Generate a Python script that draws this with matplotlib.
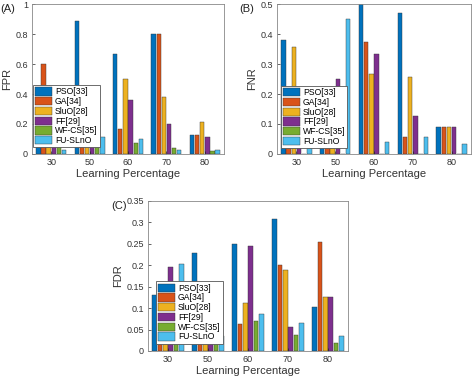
import matplotlib
matplotlib.use("Agg")
import matplotlib.pyplot as plt
import numpy as np
from matplotlib.ticker import FuncFormatter

groups = ["30", "50", "60", "70", "80"]
methods = ["PSO[33]", "GA[34]", "SluO[28]", "FF[29]", "WF-CS[35]", "FU-SLnO"]
colors = ["#0072BD", "#D95319", "#EDB120", "#7E2F8E", "#77AC30", "#4DBEEE"]

# rows = methods, columns = learning percentage
fpr = [
    [0.30, 0.89, 0.667, 0.80, 0.125],
    [0.60, 0.25, 0.167, 0.80, 0.125],
    [0.20, 0.20, 0.50, 0.38, 0.21],
    [0.10, 0.15, 0.36, 0.20, 0.115],
    [0.05, 0.075, 0.075, 0.04, 0.02],
    [0.025, 0.11, 0.10, 0.025, 0.025],
]
fnr = [
    [0.38, 0.20, 0.50, 0.47, 0.09],
    [0.15, 0.15, 0.375, 0.057, 0.09],
    [0.357, 0.10, 0.267, 0.255, 0.09],
    [0.20, 0.25, 0.333, 0.125, 0.09],
    [0.0, 0.0, 0.0, 0.0, 0.0],
    [0.05, 0.45, 0.04, 0.057, 0.032],
]
fdr = [
    [0.13, 0.229, 0.25, 0.308, 0.102],
    [0.10, 0.12, 0.062, 0.20, 0.254],
    [0.08, 0.10, 0.111, 0.19, 0.125],
    [0.196, 0.14, 0.246, 0.055, 0.126],
    [0.06, 0.071, 0.071, 0.037, 0.018],
    [0.204, 0.035, 0.087, 0.065, 0.035],
]

panels = [
    ("(A)", "FPR", fpr, 1.0, np.arange(0, 1.01, 0.2), [32, 224, 4, 154], (0.005, 0.045), 0),
    ("(B)", "FNR", fnr, 0.5, np.arange(0, 0.51, 0.1), [277, 471, 4, 154], (0.02, 0.04), 239),
    ("(C)", "FDR", fdr, 0.35, np.arange(0, 0.351, 0.05), [148, 348, 201, 351], (0.04, 0.05), 111),
]

W, H = 474, 377
fig = plt.figure(figsize=(W / 100, H / 100), dpi=100)
plt.rcParams['font.family'] = ['Liberation Sans', 'DejaVu Sans']

x = np.arange(1, len(groups) + 1)
n = len(methods)
slot = 0.8 / n

for tag, ylab, data, ymax, yt, box, legpos, tagx in panels:
    l, r, t, b = box
    ax = fig.add_axes([l / W, (H - b) / H, (r - l) / W, (b - t) / H])
    for i in range(n):
        off = (i - (n - 1) / 2) * slot
        ax.bar(x + off, data[i], width=slot * 0.85, color=colors[i],
               edgecolor="#333333", linewidth=0.3, label=methods[i])
    ax.set_xlim(0.5, 5.5)
    ax.set_ylim(0, ymax)
    ax.set_xticks(x)
    ax.set_xticklabels(groups)
    ax.set_yticks(yt)
    ax.yaxis.set_major_formatter(FuncFormatter(lambda v, p: "%g" % round(v, 3)))
    ax.tick_params(direction="in", length=2, width=0.5, labelsize=6.5,
                   colors="#262626", labelcolor="#333333", pad=3)
    for s in ax.spines.values():
        s.set_color("#888888")
        s.set_linewidth(0.6)
    ax.set_xlabel("Learning Percentage", fontsize=8, color="#333333", labelpad=1)
    ax.set_ylabel(ylab, fontsize=8, color="#333333", labelpad=2)
    leg = ax.legend(loc="lower left", bbox_to_anchor=legpos, fontsize=6.2,
                    handlelength=2.0, handleheight=1.1, labelspacing=0.08,
                    handletextpad=0.3, borderpad=0.25, borderaxespad=0,
                    fancybox=False, framealpha=1)
    leg.get_frame().set_edgecolor("#555555")
    leg.get_frame().set_linewidth(0.6)
    fig.text(tagx / W, (H - t - 5) / H, tag, fontsize=8, color="#222222", va="center")

fig.savefig("out.png", dpi=100)
